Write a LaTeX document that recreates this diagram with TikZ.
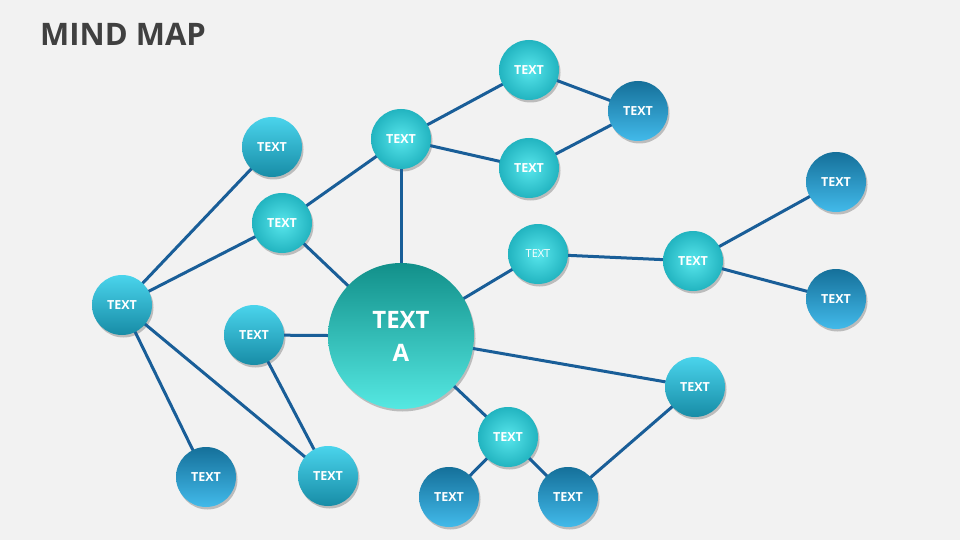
\documentclass[tikz,border=0pt]{standalone}
\usepackage{fontspec}
\setmainfont{Open Sans}
\definecolor{bgc}{HTML}{F2F2F2}
\definecolor{titlec}{HTML}{404040}
\definecolor{edgec}{HTML}{195E98}
\definecolor{cIn}{HTML}{58E6EC}
\definecolor{cOut}{HTML}{22B4C0}
\definecolor{dTop}{HTML}{15709A}
\definecolor{dBot}{HTML}{42BAEA}
\definecolor{lTop}{HTML}{4AD4EC}
\definecolor{lBot}{HTML}{178CA6}
\definecolor{aTop}{HTML}{12908A}
\definecolor{aBot}{HTML}{55E8E2}
\pgfdeclarelayer{bglayer}
\pgfdeclarelayer{shadowlayer}
\pgfdeclarelayer{edgelayer}
\pgfsetlayers{bglayer,shadowlayer,edgelayer,main}
\tikzset{
  nd/.style={circle, minimum size=60pt, inner sep=0pt, text=white,
    font=\fontsize{12.5}{12.5}\selectfont\bfseries},
  radc/.style={nd, inner color=cIn, outer color=cOut},
  dtop/.style={nd, top color=dTop, bottom color=dBot},
  ltop/.style={nd, top color=lTop, bottom color=lBot},
  link/.style={draw=edgec, line width=3pt},
  shd/.style={fill=black, opacity=0.22},
}
\begin{document}
\begin{tikzpicture}[x=1pt,y=-1pt]
\useasboundingbox (0,0) rectangle (960,540);
\begin{pgfonlayer}{bglayer}
\fill[bgc] (0,0) rectangle (960,540);
\end{pgfonlayer}
\node[anchor=base west, text=titlec, font=\fontsize{31}{31}\selectfont\bfseries, inner sep=0pt] (title) at (40,46) {MIND MAP};
% center
\node[circle, minimum size=146pt, inner sep=0pt, top color=aTop, bottom color=aBot, text=white,
  font=\fontsize{24}{33}\selectfont\bfseries, align=center] (A) at (401,336) {TEXT\\A};
% cyan radial
\node[radc] (c1) at (401,139) {TEXT};
\node[radc] (c2) at (529,70) {TEXT};
\node[radc] (c3) at (529,168) {TEXT};
\node[radc] (c4) at (282,223) {TEXT};
\node[radc, font=\fontsize{11}{11}\selectfont] (c5) at (538,254) {TEXT};
\node[radc] (c6) at (693,261) {TEXT};
\node[radc] (c7) at (508,437) {TEXT};
% dark top
\node[dtop] (d1) at (638,111) {TEXT};
\node[dtop] (d2) at (836,182) {TEXT};
\node[dtop] (d3) at (836,299) {TEXT};
\node[dtop] (d4) at (206,477) {TEXT};
\node[dtop] (d5) at (449,497) {TEXT};
\node[dtop] (d6) at (568,497) {TEXT};
% light top
\node[ltop] (l1) at (272,147) {TEXT};
\node[ltop] (l2) at (122,305) {TEXT};
\node[ltop] (l3) at (254,335) {TEXT};
\node[ltop] (l4) at (328,476) {TEXT};
\node[ltop] (l5) at (695,387) {TEXT};
\begin{pgfonlayer}{shadowlayer}
\foreach \n in {c1,c2,c3,c4,c5,c6,c7,d1,d2,d3,d4,d5,d6,l1,l2,l3,l4,l5}
  \fill[shd] ([shift={(1.5,2.5)}]\n.center) circle (30pt);
\fill[shd] ([shift={(1.5,2.5)}]A.center) circle (73pt);
\end{pgfonlayer}
\begin{pgfonlayer}{edgelayer}
\draw[link] (A.center) -- (c1.center);
\draw[link] (c1.center) -- (c2.center);
\draw[link] (c1.center) -- (c3.center);
\draw[link] (c2.center) -- (d1.center);
\draw[link] (c3.center) -- (d1.center);
\draw[link] (c1.center) -- (c4.center);
\draw[link] (c4.center) -- (A.center);
\draw[link] (c4.center) -- (l2.center);
\draw[link] (l1.center) -- (l2.center);
\draw[link] (l2.center) -- (d4.center);
\draw[link] (l2.center) -- (l4.center);
\draw[link] (l3.center) -- (A.center);
\draw[link] (l3.center) -- (l4.center);
\draw[link] (A.center) -- (c5.center);
\draw[link] (c5.center) -- (c6.center);
\draw[link] (c6.center) -- (d2.center);
\draw[link] (c6.center) -- (d3.center);
\draw[link] (A.center) -- (l5.center);
\draw[link] (A.center) -- (c7.center);
\draw[link] (c7.center) -- (d5.center);
\draw[link] (c7.center) -- (d6.center);
\draw[link] (d6.center) -- (l5.center);
\end{pgfonlayer}
\end{tikzpicture}
\end{document}
